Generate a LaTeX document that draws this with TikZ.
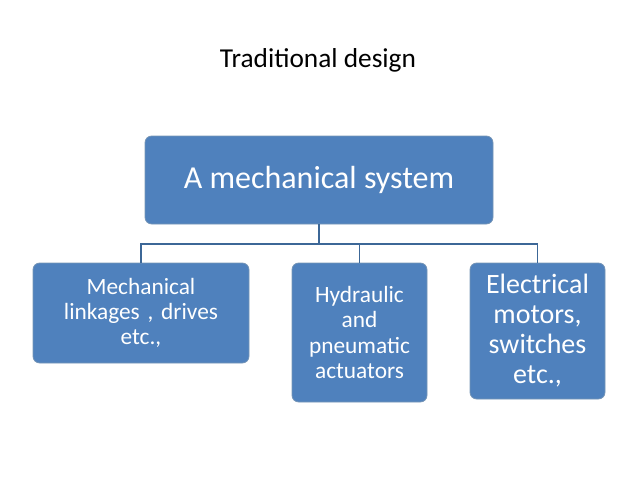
\documentclass[tikz,border=0pt]{standalone}
\usepackage{fontspec}
\setmainfont{Carlito}
\definecolor{boxblue}{HTML}{4F81BD}
\definecolor{lineblue}{HTML}{3C6797}
\begin{document}
\begin{tikzpicture}[x=0.75pt,y=-0.75pt,
  bx/.style={draw=lineblue!70!white,line width=0.6pt,fill=boxblue,rounded corners=5pt,text=white,align=center,inner sep=0pt},
  conn/.style={draw=lineblue,line width=1pt}]
\useasboundingbox (0,0) rectangle (638,478);
\node[font=\fontsize{20.5}{24}\selectfont] (title) at (318,60) {Traditional design};
\node[bx,minimum width=348*0.75pt,minimum height=88*0.75pt,font=\fontsize{24}{28}\selectfont] (top) at (319,180) {A mechanical system};
\node[bx,minimum width=216*0.75pt,minimum height=100*0.75pt,text width=155pt,font=\fontsize{17.5}{19}\selectfont] (l) at (141,313) {Mechanical\\linkages , drives\\etc.,};
\node[bx,minimum width=135*0.75pt,minimum height=139*0.75pt,text width=98pt,font=\fontsize{17.5}{19}\selectfont] (m) at (359.5,332.5) {Hydraulic\\and\\pneumatic\\actuators};
\node[bx,minimum width=135*0.75pt,minimum height=136*0.75pt,text width=98pt,font=\fontsize{21}{22.5}\selectfont] (r) at (537.5,331) {Electrical\\motors,\\switches\\etc.,};
\coordinate (j) at (319,244);
\draw[conn] (top.south) -- (j);
\draw[conn] (l.north) -- (l.north |- j) -- (r.north |- j) -- (r.north);
\draw[conn] (m.north |- j) -- (m.north);
\end{tikzpicture}
\end{document}
